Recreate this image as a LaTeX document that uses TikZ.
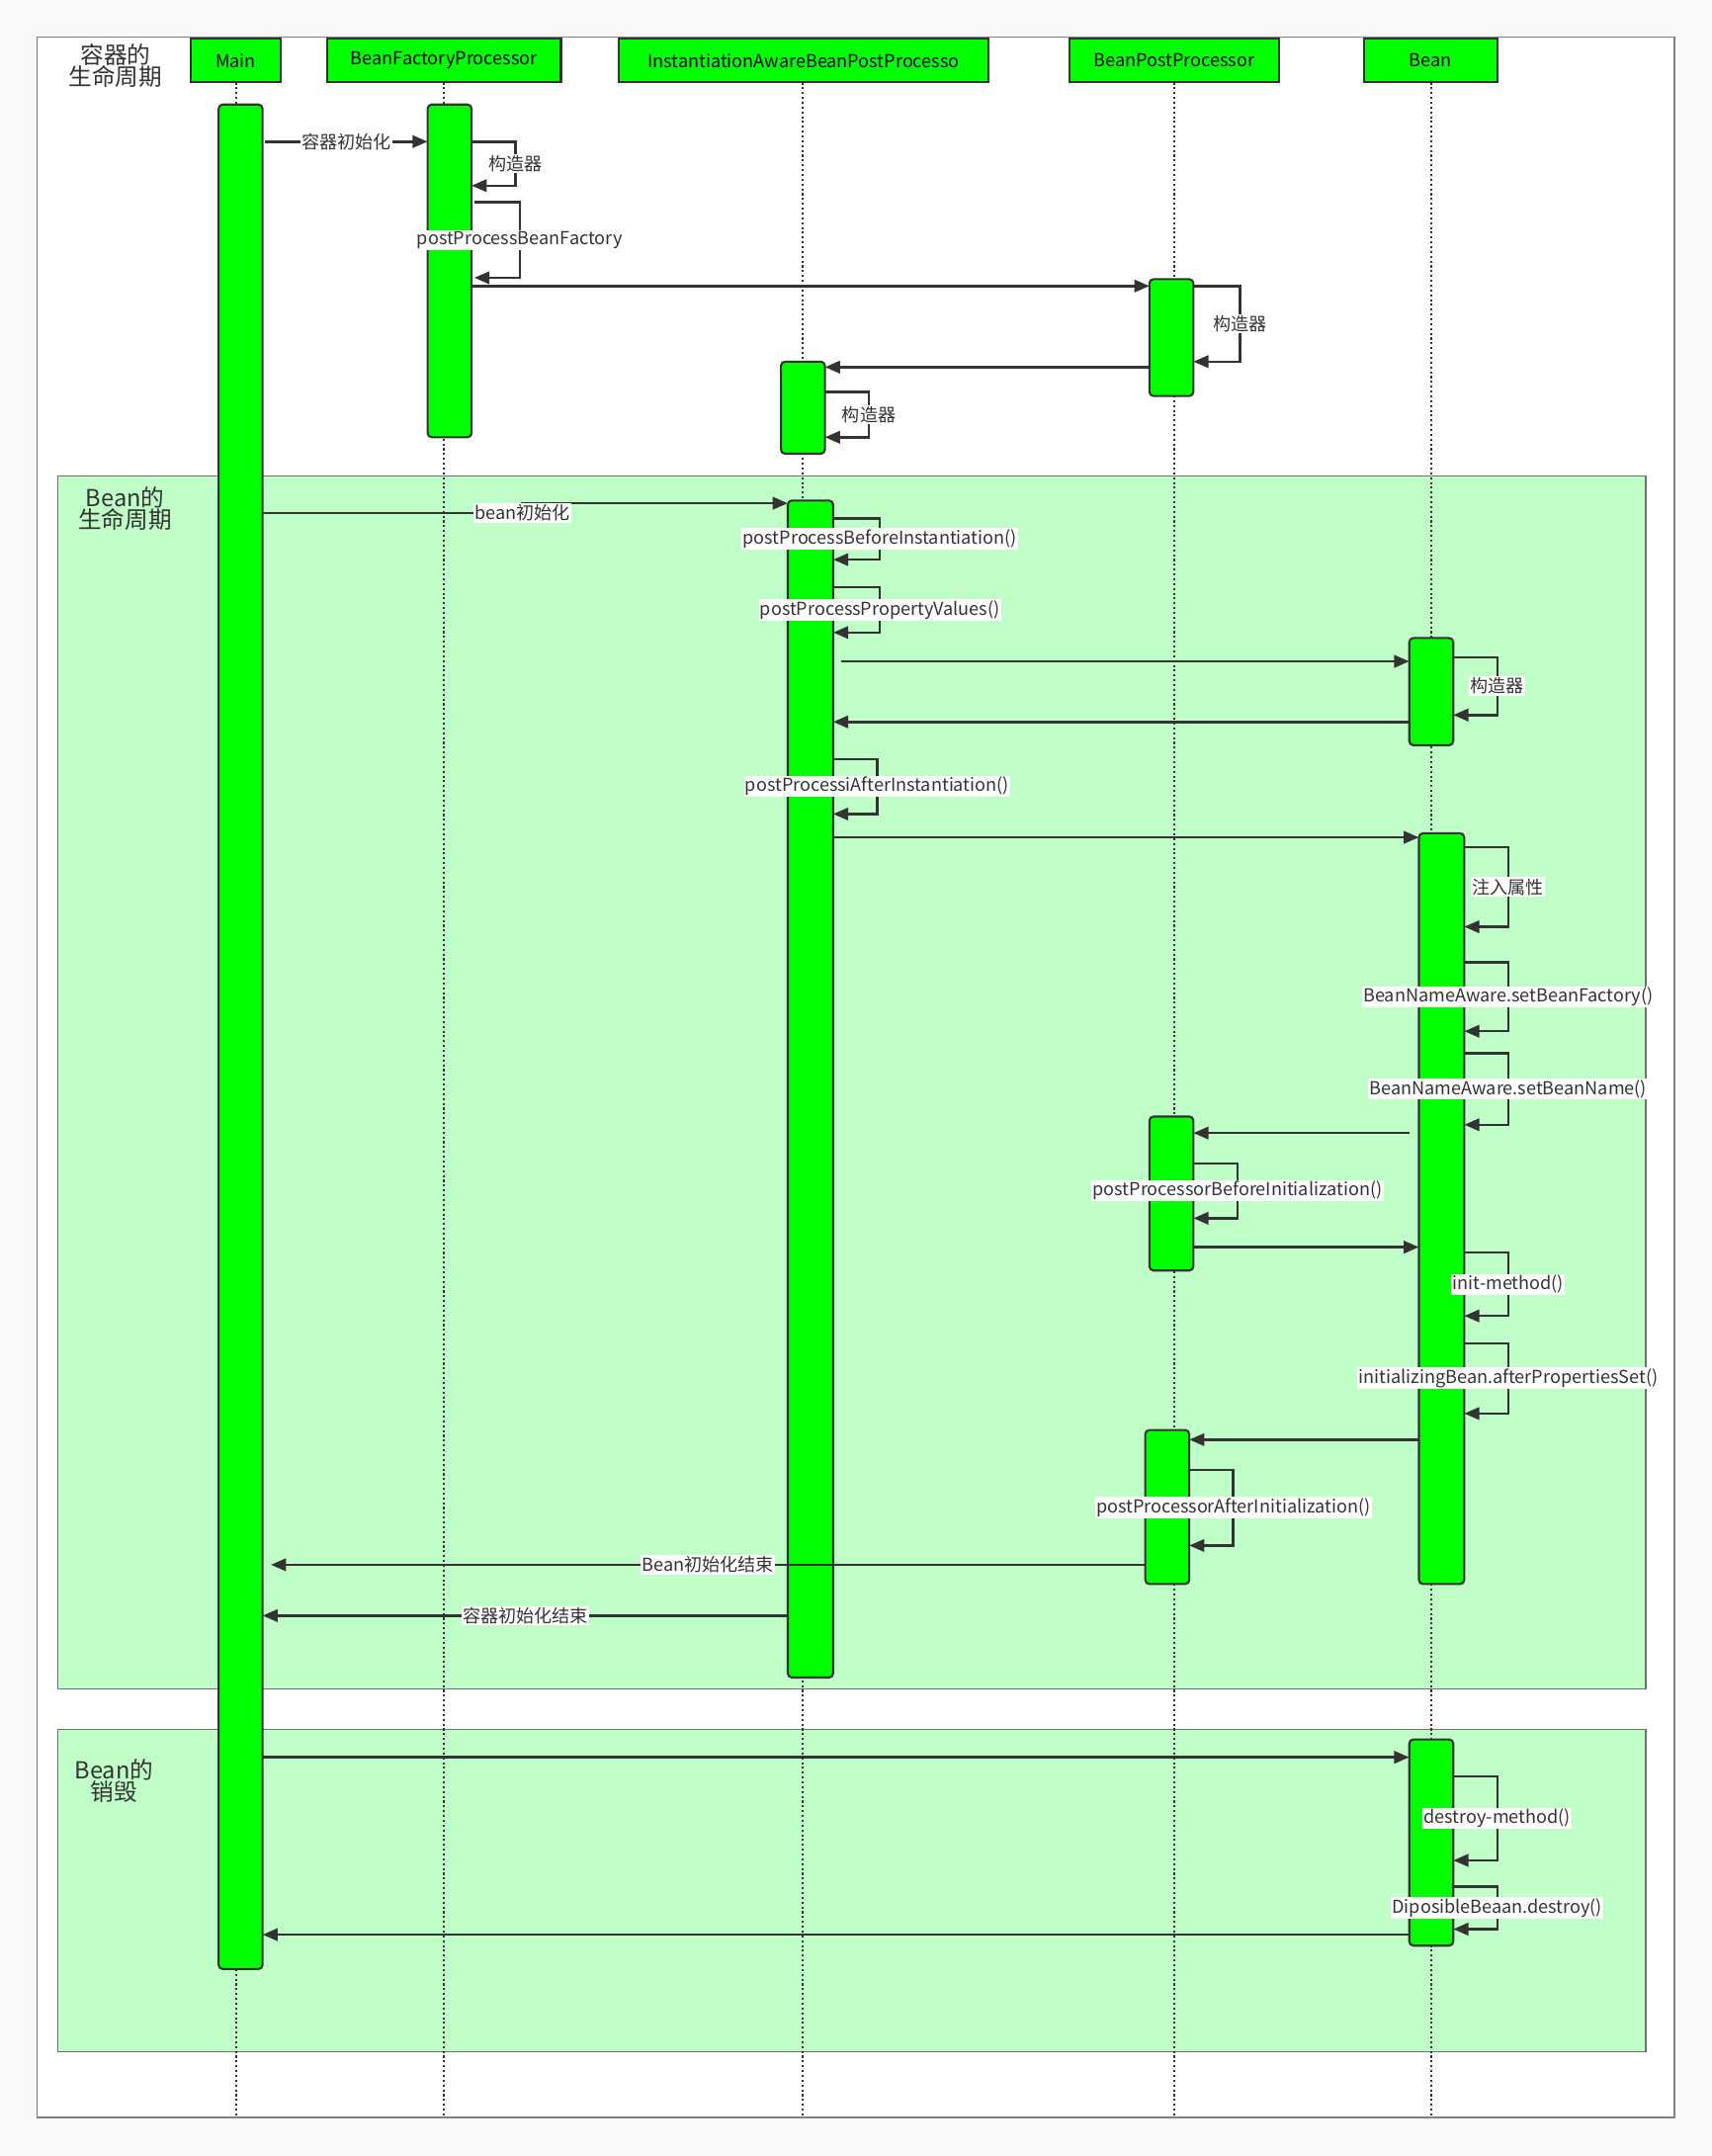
\documentclass[tikz,border=0pt]{standalone}
\usepackage{fontspec}
\setmainfont{Noto Sans CJK SC}
\usetikzlibrary{arrows.meta}
\definecolor{bgc}{HTML}{F8F8F8}
\definecolor{grn}{HTML}{00FF00}
\definecolor{lgrn}{HTML}{C0FFC8}
\definecolor{dk}{HTML}{333333}
\begin{document}
\begin{tikzpicture}[x=1pt,y=-1pt,
 hdr/.style={draw=dk,line width=1.5pt,fill=grn,minimum height=32pt,inner sep=0pt,font=\fontsize{13}{15}\selectfont},
 act/.style={draw=dk,line width=1.5pt,fill=grn,rounded corners=3pt},
 msg/.style={draw=dk,line width=1.8pt,-{Triangle[length=11pt,width=9pt]}},
 lab/.style={fill=white,inner sep=1pt,font=\fontsize{13}{15}\selectfont,text=dk},
 life/.style={draw=dk,line width=1.5pt,dotted},
 frm/.style={font=\fontsize{17}{20}\selectfont,align=center,text=dk}]
\useasboundingbox (0,0) rectangle (1245,1568);
\fill[bgc] (0,0) rectangle (1245,1568);
\draw[gray,fill=white,line width=1pt] (27,27) rectangle (1218,1540);
\draw[draw=dk!70,fill=lgrn,line width=0.8pt] (42,346) rectangle (1197,1228);
\draw[draw=dk!70,fill=lgrn,line width=0.8pt] (42,1258) rectangle (1197,1492);
\node[frm] (f1) at (84,48) {容器的\\[-4pt]生命周期};
\node[frm] (f2) at (91,370) {Bean的\\[-4pt]生命周期};
\node[frm] (f3) at (83,1295) {Bean的\\[-4pt]销毁};
% lifelines
\foreach \x in {172,323,584,854,1041} \draw[life] (\x,60) -- (\x,1540);
% headers
\node[hdr,minimum width=65pt] (hm) at (171.5,44) {Main};
\node[hdr,minimum width=170pt] (hb) at (323,44) {BeanFactoryProcessor};
\node[hdr,minimum width=269pt] (hi) at (584.5,44) {InstantiationAwareBeanPostProcesso};
\node[hdr,minimum width=152pt] (hp) at (854,44) {BeanPostProcessor};
\node[hdr,minimum width=97pt] (hn) at (1040.5,44) {Bean};
% activations
\draw[act] (159,76) rectangle (191,1432);
\draw[act] (311,76) rectangle (343,318);
\draw[act] (568,263) rectangle (600,330);
\draw[act] (573,364) rectangle (606,1220);
\draw[act] (836,203) rectangle (868,288);
\draw[act] (836,812) rectangle (868,924);
\draw[act] (833,1040) rectangle (865,1152);
\draw[act] (1025,464) rectangle (1057,542);
\draw[act] (1032,606) rectangle (1065,1152);
\draw[act] (1025,1265) rectangle (1057,1415);
% messages
\draw[msg] (193,103) -- node[lab]{容器初始化} (311,103);
\draw[msg] (343,103) -- (375,103) -- node[lab]{构造器} (375,135) -- (343,135);
\draw[msg] (345,147) -- (378,147) -- node[lab]{postProcessBeanFactory} (378,202) -- (345,202);
\draw[msg] (343,208) -- (836,208);
\draw[msg] (868,208) -- (902,208) -- node[lab]{构造器} (902,263) -- (868,263);
\draw[msg] (836,267) -- (600,267);
\draw[msg] (600,285) -- (632,285) -- node[lab]{构造器} (632,318) -- (600,318);
\draw[msg] (191,373) -- (380,373) -- node[lab,pos=0]{bean初始化} (380,366) -- (573,366);
\draw[msg] (606,377) -- (640,377) -- node[lab]{postProcessBeforeInstantiation()} (640,407) -- (606,407);
\draw[msg] (606,427) -- (640,427) -- node[lab]{postProcessPropertyValues()} (640,460) -- (606,460);
\draw[msg] (612,481) -- (1025,481);
\draw[msg] (1057,478) -- (1089,478) -- node[lab]{构造器} (1089,520) -- (1057,520);
\draw[msg] (1025,525) -- (606,525);
\draw[msg] (606,552) -- (638,552) -- node[lab]{postProcessiAfterInstantiation()} (638,592) -- (606,592);
\draw[msg] (606,609) -- (1032,609);
\draw[msg] (1065,616) -- (1097,616) -- node[lab]{注入属性} (1097,674) -- (1065,674);
\draw[msg] (1065,700) -- (1097,700) -- node[lab]{BeanNameAware.setBeanFactory()} (1097,750) -- (1065,750);
\draw[msg] (1065,766) -- (1097,766) -- node[lab]{BeanNameAware.setBeanName()} (1097,818) -- (1065,818);
\draw[msg] (1025,824) -- (868,824);
\draw[msg] (868,846) -- (900,846) -- node[lab]{postProcessorBeforeInitialization()} (900,886) -- (868,886);
\draw[msg] (868,907) -- (1032,907);
\draw[msg] (1065,911) -- (1097,911) -- node[lab]{init-method()} (1097,957) -- (1065,957);
\draw[msg] (1065,977) -- (1097,977) -- node[lab]{initializingBean.afterPropertiesSet()} (1097,1028) -- (1065,1028);
\draw[msg] (1032,1047) -- (865,1047);
\draw[msg] (865,1069) -- (897,1069) -- node[lab]{postProcessorAfterInitialization()} (897,1124) -- (865,1124);
\draw[msg] (833,1138) -- node[lab,pos=0.5]{Bean初始化结束} (197,1138);
\draw[msg] (573,1175) -- node[lab]{容器初始化结束} (191,1175);
\draw[msg] (191,1278) -- (1025,1278);
\draw[msg] (1057,1292) -- (1089,1292) -- node[lab]{destroy-method()} (1089,1353) -- (1057,1353);
\draw[msg] (1057,1372) -- (1089,1372) -- node[lab]{DiposibleBeaan.destroy()} (1089,1403) -- (1057,1403);
\draw[msg] (1025,1407) -- (191,1407);
\end{tikzpicture}
\end{document}
